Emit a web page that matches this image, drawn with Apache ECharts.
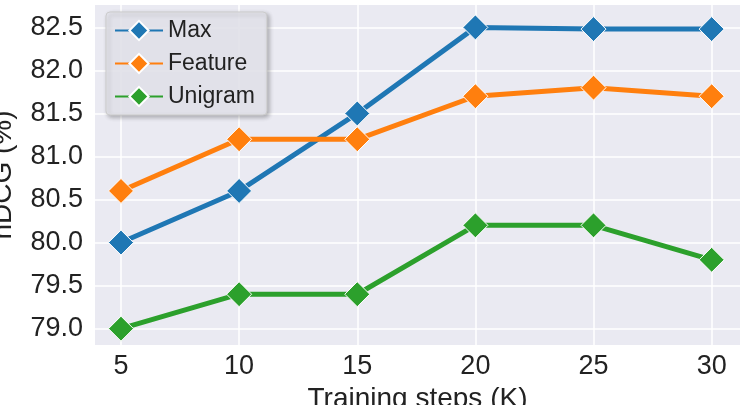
<!DOCTYPE html>
<html><head><meta charset="utf-8">
<script src="https://cdn.jsdelivr.net/npm/echarts@6/dist/echarts.min.js"></script>
<style>html,body{margin:0;background:#fff}#c{width:745px;height:405px}</style>
</head><body><div id="c"></div>
<script>
var steps=[5,10,15,20,25,30];
var maxVals=[80.0,80.6,81.5,82.5,82.48,82.48];
var featureVals=[80.6,81.2,81.2,81.7,81.8,81.7];
var unigramVals=[79.0,79.4,79.4,80.2,80.2,79.8];
var yTicks=[79.0,79.5,80.0,80.5,81.0,81.5,82.0,82.5];

var chart=echarts.init(document.getElementById('c'));
var font='Liberation Sans';
function mk(name,vals,color){
	return {name:name,type:'line',data:steps.map(function(s,i){return [s,vals[i]]}),
		symbol:'diamond',symbolSize:25,lineStyle:{width:5,color:color},
		itemStyle:{color:color,borderColor:'#fff',borderWidth:1}};
}
chart.setOption({
	textStyle:{fontFamily:font},
	grid:{left:95,right:5,top:5,bottom:60,outerBoundsMode:'none',containLabel:false,show:true,backgroundColor:'#EAEAF2',borderWidth:0},
	legend:{orient:'vertical',left:106,top:12,itemWidth:48,itemHeight:24,itemGap:10,
		padding:[7,12,7,8],backgroundColor:'rgba(234,234,242,0.85)',borderColor:'#ccc',borderWidth:1,borderRadius:4,
		shadowColor:'rgba(0,0,0,0.3)',shadowBlur:4,shadowOffsetX:2,shadowOffsetY:2,
		textStyle:{fontSize:23,color:'#222',fontFamily:font},data:['Max','Feature','Unigram']},
	xAxis:{type:'value',min:3.9,max:31.2,name:'Training steps (K)',nameLocation:'middle',nameGap:39,
		nameTextStyle:{fontSize:28,color:'#222'},
		axisLine:{show:false},axisTick:{show:false,customValues:steps},
		axisLabel:{fontSize:27,color:'#222',margin:8,customValues:steps},
		splitLine:{show:true,lineStyle:{color:'#fff',width:1.5}}},
	yAxis:{type:'value',min:78.81,max:82.76,name:'nDCG (%)',nameLocation:'middle',nameGap:78,
		nameTextStyle:{fontSize:28,color:'#222'},
		axisLine:{show:false},axisTick:{show:false,customValues:yTicks},
		axisLabel:{fontSize:27,color:'#222',margin:12,customValues:yTicks,formatter:function(v){return v.toFixed(1)}},
		splitLine:{show:true,lineStyle:{color:'#fff',width:1.5}}},
	series:[mk('Max',maxVals,'#1F77B4'),mk('Feature',featureVals,'#FF7F0E'),mk('Unigram',unigramVals,'#2CA02C')]
});
</script></body></html>
